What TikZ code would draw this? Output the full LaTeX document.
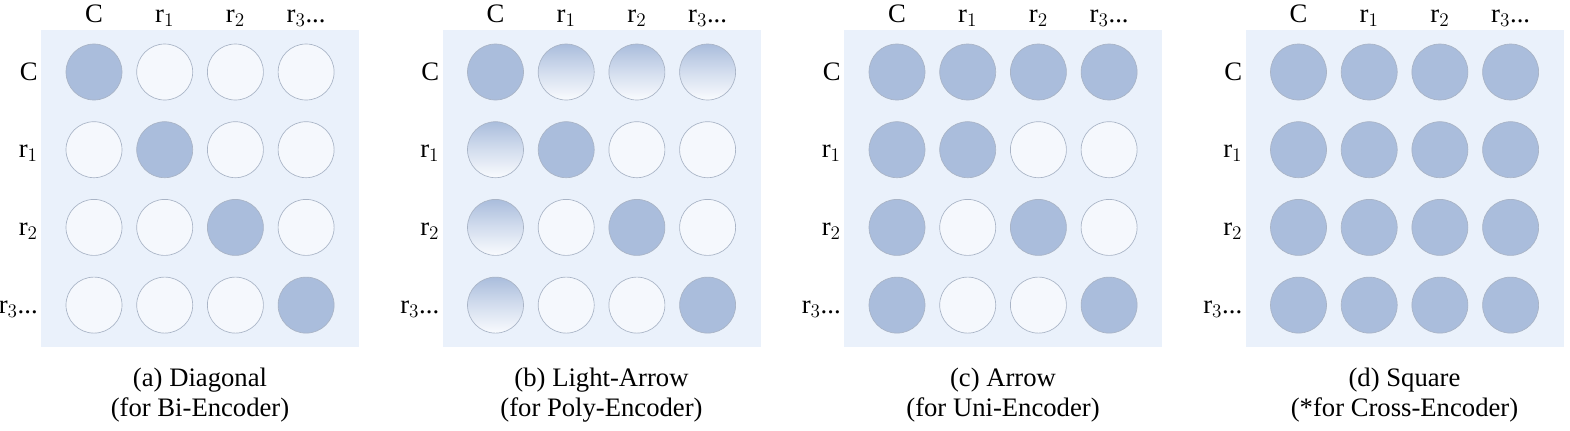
\documentclass[tikz,border=0pt]{standalone}
\usepackage{fontspec}
\setmainfont{Liberation Serif}
\newcommand\rthree{r$_3$...}
\begin{document}
\definecolor{bgc}{HTML}{EAF1FB}
\definecolor{dk}{HTML}{AABDDC}
\definecolor{lt}{HTML}{F5F8FD}
\definecolor{bd}{HTML}{A9B4C6}
\begin{tikzpicture}[x=0.75pt,y=-0.75pt,font=\fontsize{20}{24}\selectfont,
  cell/.style={circle,minimum size=42pt,inner sep=0pt,draw=bd,line width=0.5pt},
  D/.style={cell,fill=dk},
  L/.style={cell,fill=lt},
  G/.style={cell,top color=dk,bottom color=lt!60!white,middle color=dk!45!lt},
  lab/.style={inner sep=0pt,anchor=base}]
\useasboundingbox (0,0) rectangle (1570,430);
\foreach \p/\cap/\sub [count=\k from 0] in {a/{(a) Diagonal}/{(for Bi-Encoder)},b/{(b) Light-Arrow}/{(for Poly-Encoder)},c/{(c) Arrow}/{(for Uni-Encoder)},d/{(d) Square}/{(*for Cross-Encoder)}}{
  \begin{scope}[xshift=\k*401.5*0.75pt]
    \fill[bgc] (41,30) rectangle (359,347);
    \foreach \t [count=\i] in {C,r$_1$,r$_2$,\rthree}{
      \node[lab] (\p-col\i) at ({94+70.7*(\i-1)},22) {\t};
      \node[lab,anchor=base east] (\p-row\i) at (38,{80+77.7*(\i-1)}) {\t};
    }
    \node (\p-cap) at (200,380) {\cap};
    \node (\p-sub) at (200,410) {\sub};
  \end{scope}
}
\foreach \k/\p in {0/a,1/b,2/c,3/d}{
  \begin{scope}[xshift=\k*401.5*0.75pt]
  \foreach \i in {1,2,3,4}{\foreach \j in {1,2,3,4}{
    \pgfmathsetmacro{\xx}{94+70.7*(\j-1)}
    \pgfmathsetmacro{\yy}{72+77.7*(\i-1)}
    \ifnum\k=0
      \ifnum\i=\j \node[D] (\p-\i-\j) at (\xx,\yy) {}; \else \node[L] (\p-\i-\j) at (\xx,\yy) {}; \fi
    \fi
    \ifnum\k=1
      \ifnum\i=\j \node[D] (\p-\i-\j) at (\xx,\yy) {};
      \else \ifnum\i=1 \node[G] (\p-\i-\j) at (\xx,\yy) {};
      \else \ifnum\j=1 \node[G] (\p-\i-\j) at (\xx,\yy) {};
      \else \node[L] (\p-\i-\j) at (\xx,\yy) {}; \fi\fi\fi
    \fi
    \ifnum\k=2
      \ifnum\i=\j \node[D] (\p-\i-\j) at (\xx,\yy) {};
      \else \ifnum\i=1 \node[D] (\p-\i-\j) at (\xx,\yy) {};
      \else \ifnum\j=1 \node[D] (\p-\i-\j) at (\xx,\yy) {};
      \else \node[L] (\p-\i-\j) at (\xx,\yy) {}; \fi\fi\fi
    \fi
    \ifnum\k=3 \node[D] (\p-\i-\j) at (\xx,\yy) {}; \fi
  }}
  \end{scope}
}
\end{tikzpicture}
\end{document}
